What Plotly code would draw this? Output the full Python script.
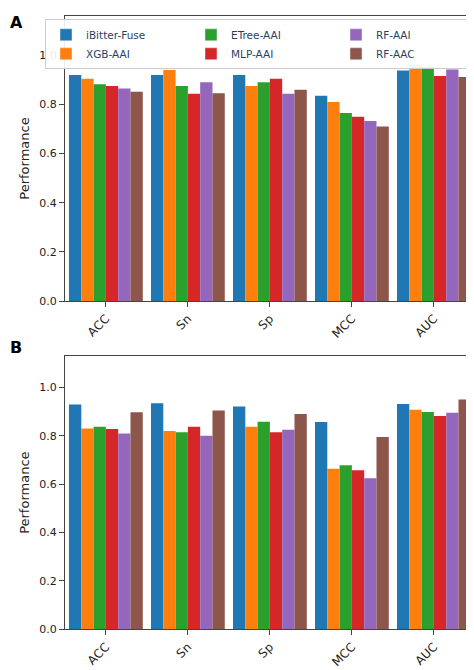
import plotly.graph_objects as go

metrics = ["ACC", "Sn", "Sp", "MCC", "AUC"]
models = ["iBitter-Fuse", "XGB-AAI", "ETree-AAI", "MLP-AAI", "RF-AAI", "RF-AAC"]
colors = ["#1f77b4", "#ff7f0e", "#2ca02c", "#d62728", "#9467bd", "#8c564b"]
top_vals = [
    [0.920, 0.920, 0.920, 0.835, 0.938],
    [0.905, 0.940, 0.875, 0.810, 0.962],
    [0.882, 0.875, 0.890, 0.765, 0.952],
    [0.875, 0.843, 0.905, 0.750, 0.916],
    [0.865, 0.890, 0.843, 0.733, 0.942],
    [0.852, 0.846, 0.860, 0.710, 0.912],
]
bot_vals = [
    [0.930, 0.935, 0.921, 0.857, 0.932],
    [0.830, 0.820, 0.838, 0.664, 0.908],
    [0.838, 0.815, 0.858, 0.678, 0.899],
    [0.828, 0.838, 0.815, 0.658, 0.882],
    [0.810, 0.800, 0.825, 0.625, 0.896],
    [0.898, 0.905, 0.890, 0.795, 0.950],
]
legend_order = [0, 2, 4, 1, 3, 5]

fig = go.Figure()
for i, m in enumerate(models):
    fig.add_trace(go.Bar(x=metrics, y=top_vals[i], name=m, marker_color=colors[i],
                         marker_line_width=0, xaxis="x", yaxis="y", showlegend=False))
for i, m in enumerate(models):
    fig.add_trace(go.Bar(x=metrics, y=bot_vals[i], name=m, marker_color=colors[i],
                         marker_line_width=0, xaxis="x2", yaxis="y2", showlegend=False))
for i in legend_order:
    fig.add_trace(go.Bar(x=[None], y=[None], name=models[i], marker_color=colors[i],
                         xaxis="x3", yaxis="y3", showlegend=True))

ax = dict(showline=True, mirror=True, linecolor="#444", linewidth=1, ticks="outside",
          tickangle=-45, tickfont=dict(size=12, color="#222"))
def ay(top):
    return dict(showline=True, mirror=True, linecolor="#444", linewidth=1, ticks="outside",
          range=[0, top], tickvals=[0, 0.2, 0.4, 0.6, 0.8, 1.0],
          ticktext=["0.0", "0.2", "0.4", "0.6", "0.8", "1.0"], showgrid=False, zeroline=False,
          tickfont=dict(size=11, color="#222"),
          title=dict(text="Performance", font=dict(size=13, color="#222"), standoff=6))
fig.update_layout(
    width=474, height=670, margin=dict(l=0, r=0, t=0, b=0),
    paper_bgcolor="white", plot_bgcolor="white",
    font=dict(family="DejaVu Sans"),
    barmode="group", bargap=0.1, bargroupgap=0,
    xaxis=dict(domain=[0.12, 0.985], anchor="y", **ax),
    yaxis=dict(domain=[0.558, 0.988], anchor="x", **ay(1.16)),
    xaxis2=dict(domain=[0.12, 0.985], anchor="y2", **ax),
    yaxis2=dict(domain=[0.063, 0.475], anchor="x2", **ay(1.13)),
    xaxis3=dict(visible=False, domain=[0, 0.01]),
    yaxis3=dict(visible=False, domain=[0, 0.01]),
    legend=dict(orientation="h", x=0.135, y=0.983, xanchor="left", yanchor="top",
                bgcolor="rgba(255,255,255,0.9)", bordercolor="#ccc", borderwidth=1,
                font=dict(size=10.5), entrywidth=100, traceorder="normal",
                itemwidth=30, tracegroupgap=0),
    annotations=[
        dict(text="<b>A</b>", x=0.0, y=0.995, xref="paper", yref="paper", showarrow=False,
             xanchor="left", yanchor="top", font=dict(size=16, color="black")),
        dict(text="<b>B</b>", x=0.0, y=0.505, xref="paper", yref="paper", showarrow=False,
             xanchor="left", yanchor="top", font=dict(size=16, color="black")),
    ],
)
fig.write_html("out.html")
